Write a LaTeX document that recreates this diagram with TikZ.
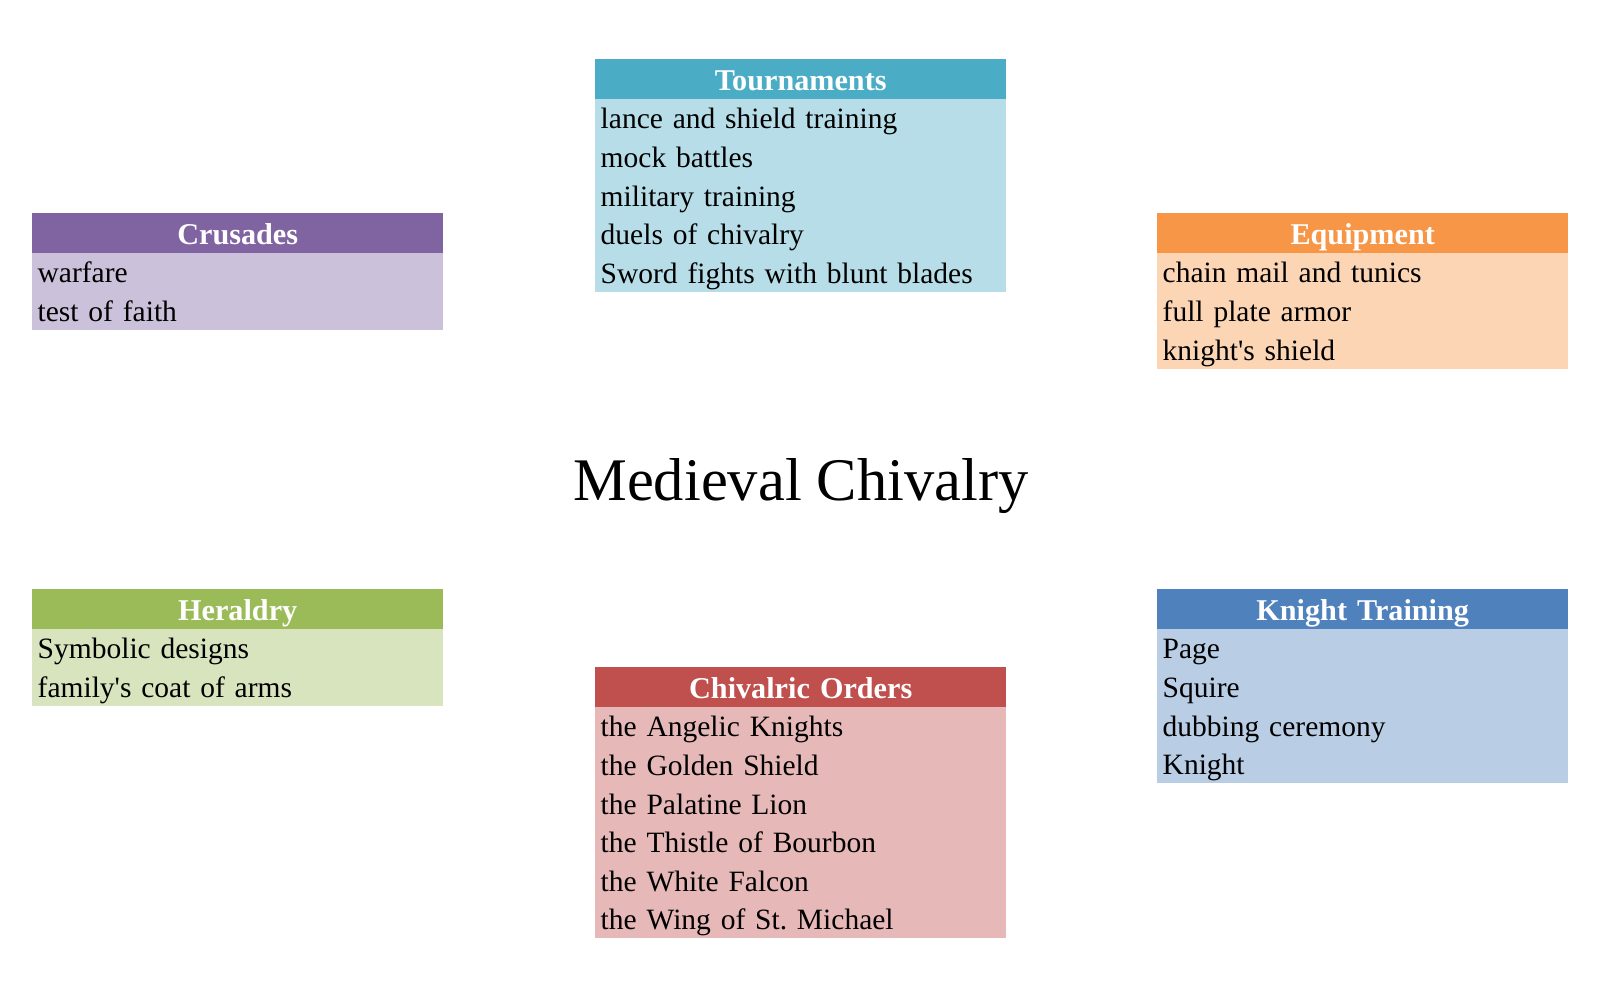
\documentclass[tikz,border=0pt]{standalone}
\usepackage{fontspec}
\setmainfont{Liberation Serif}
\usetikzlibrary{matrix}

\definecolor{tourHead}{HTML}{4BACC6}
\definecolor{tourBody}{HTML}{B7DEE8}
\definecolor{crusHead}{HTML}{8064A2}
\definecolor{crusBody}{HTML}{CCC1DA}
\definecolor{equiHead}{HTML}{F79646}
\definecolor{equiBody}{HTML}{FCD5B5}
\definecolor{heraHead}{HTML}{9BBB59}
\definecolor{heraBody}{HTML}{D7E4BD}
\definecolor{trainHead}{HTML}{4F81BD}
\definecolor{trainBody}{HTML}{B9CDE5}
\definecolor{ordHead}{HTML}{C0504D}
\definecolor{ordBody}{HTML}{E6B9B8}

\newcommand\rowstrut{\rule[-8.6pt]{0pt}{38.6pt}}
\newcommand\headstrut{\rule[-7pt]{0pt}{38pt}}

\begin{document}
\begin{tikzpicture}[%
		x=1pt,y=-1pt,
		topic/.style 2 args={matrix of nodes,anchor=north west,inner sep=0pt,fill=#2,
			nodes={text width=400pt,inner xsep=5.5pt,inner ysep=0pt,align=left,
				font=\fontsize{29.5}{38.6}\selectfont,execute at begin node=\rowstrut},
			row 1/.style={nodes={fill=#1,text=white,align=center,
				font=\fontsize{30.2}{38}\selectfont\bfseries,execute at begin node=\headstrut}}}]
		\useasboundingbox(0,0)rectangle(1600,987);
		\node[font=\fontsize{60.5}{70}\selectfont,anchor=base](title)at(801,500){Medieval Chivalry};
		\matrix(tour)[topic={tourHead}{tourBody}]at(595,59)
		{
			Tournaments\\
			lance and shield training\\
			mock battles\\
			military training\\
			duels of chivalry\\
			Sword fights with blunt blades\\
		};
		\matrix(crus)[topic={crusHead}{crusBody}]at(32,213)
		{
			Crusades\\
			warfare\\
			test of faith\\
		};
		\matrix(equi)[topic={equiHead}{equiBody}]at(1157,213)
		{
			Equipment\\
			chain mail and tunics\\
			full plate armor\\
			knight\textquotesingle s shield\\
		};
		\matrix(hera)[topic={heraHead}{heraBody}]at(32,589)
		{
			Heraldry\\
			Symbolic designs\\
			family\textquotesingle s coat of arms\\
		};
		\matrix(train)[topic={trainHead}{trainBody}]at(1157,589)
		{
			Knight Training\\
			Page\\
			Squire\\
			dubbing ceremony\\
			Knight\\
		};
		\matrix(ord)[topic={ordHead}{ordBody}]at(595,667)
		{
			Chivalric Orders\\
			the Angelic Knights\\
			the Golden Shield\\
			the Palatine Lion\\
			the Thistle of Bourbon\\
			the White Falcon\\
			the Wing of St.\ Michael\\
		};
	\end{tikzpicture}
\end{document}
